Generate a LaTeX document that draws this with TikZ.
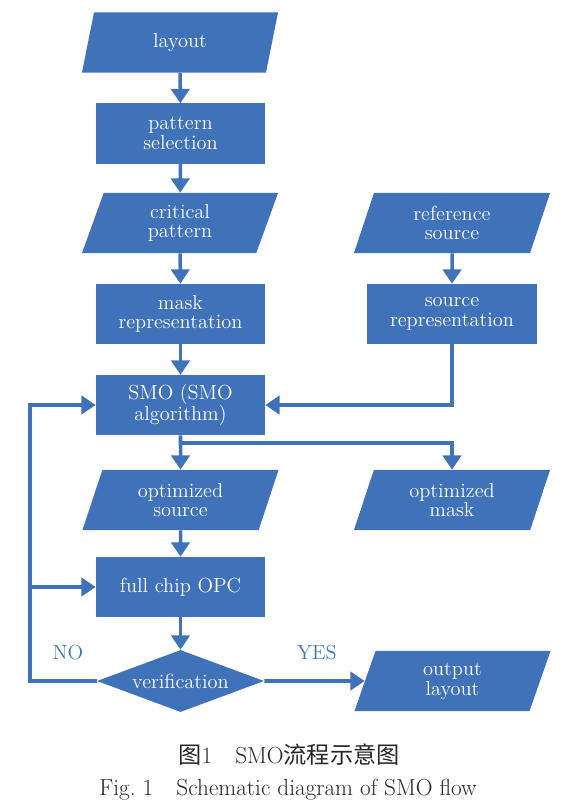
\documentclass[tikz,border=0pt]{standalone}
\usepackage{fontspec}
\newfontfamily\cjkfont{Noto Sans CJK SC}
\usetikzlibrary{shapes.geometric,arrows.meta}
\definecolor{smoblue}{RGB}{64,114,185}
\tikzset{
  base/.style={fill=smoblue,text=white,align=center,inner sep=2pt,
    font=\fontsize{14.5}{14}\selectfont},
  procbox/.style={base,rectangle,minimum width=4.225cm,minimum height=1.5cm},
  iobox/.style={base,trapezium,trapezium left angle=63.4,trapezium right angle=116.6,
    trapezium stretches body,minimum width=4.9cm,minimum height=1.5cm},
  testbox/.style={base,diamond,aspect=2.7,inner sep=0pt,
    minimum width=4.175cm,minimum height=1.55cm},
  flow/.style={draw=smoblue,line width=2.5pt,
    -{Triangle[width=0.46cm,length=0.36cm]}},
  lbl/.style={text=smoblue,font=\fontsize{14.5}{14.5}\selectfont},
  capt/.style={text=black!85,font=\fontsize{16.5}{16.5}\selectfont},
}
\begin{document}
\begin{tikzpicture}[x=0.025cm,y=-0.025cm]
  \useasboundingbox (0,0) rectangle (570,807);
  % left column
  \node[iobox] (layout) at (180,42.5) {layout};
  \node[procbox] (patsel) at (180.5,133.5) {pattern\\selection};
  \node[iobox] (critpat) at (180,223) {critical\\pattern};
  \node[procbox] (maskrep) at (180.5,314) {mask\\representation};
  \node[procbox] (smo) at (180.5,405) {SMO (SMO\\algorithm)};
  \node[iobox] (optsrc) at (180.5,500) {optimized\\source};
  \node[procbox] (opc) at (180.5,587) {full chip OPC};
  \node[testbox] (verify) at (180.5,681) {verification};
  % right column
  \node[iobox] (refsrc) at (452,223) {reference\\source};
  \node[procbox] (srcrep) at (452,314) {source\\representation};
  \node[iobox] (optmask) at (452,500) {optimized\\mask};
  \node[iobox] (output) at (452.5,681) {output\\layout};
  % labels
  \node[lbl] (no) at (68,653) {NO};
  \node[lbl] (yes) at (317,653) {YES};
  \coordinate (rail) at (30,0);
  \coordinate (split) at (180.5,443);
  % connectors
  \draw[flow] (layout) -- (patsel);
  \draw[flow] (patsel) -- (critpat);
  \draw[flow] (critpat) -- (maskrep);
  \draw[flow] (maskrep) -- (smo);
  \draw[flow] (refsrc) -- (srcrep);
  \draw[flow] (srcrep) |- (smo);
  \draw[flow] (smo) -- (optsrc);
  \draw[flow] (split) -| (optmask);
  \draw[flow] (optsrc) -- (opc);
  \draw[flow] (opc) -- (verify);
  \draw[flow] (verify) -- (output);
  \draw[flow] (verify.west) -| (rail |- smo) -- (smo);
  \draw[flow] (rail |- opc) -- (opc);
  % caption
  \node[capt] (capzh) at (289,755)
    {{\cjkfont\fontsize{16.5}{16.5}\selectfont 图}1\quad SMO{\cjkfont\fontsize{16.5}{16.5}\selectfont 流程示意图}};
  \node[capt] (capen) at (288,790) {Fig.~1\quad Schematic diagram of SMO flow};
\end{tikzpicture}
\end{document}
